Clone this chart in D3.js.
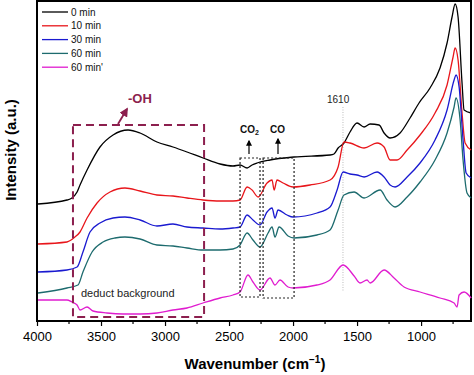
<!DOCTYPE html>
<html>
<head>
<meta charset="utf-8">
<script src="https://cdn.jsdelivr.net/npm/d3@7"></script>
<style>
  body { margin: 0; background: #fff; }
  svg { font-family: Arial, "Liberation Sans", sans-serif; }
</style>
</head>
<body>
<div id="container"></div>
<script>
/* CONSTANTS AND GLOBALS */
const width = 474,
  height = 375,
  margin = {top: 1, bottom: 54, left: 37, right: 3};

// spectra: wavenumber (cm-1) and intensity (a.u.)
const wn0 = [3992,3766,3727,3687,3664,3609,3508,3406,3289,3195,3063,2938,2828,2703,2570,2469,2414,2359,2320,2281,2180,1992,1711,1680,1648,1602,1555,1500,1445,1398,1328,1289,1242,1164,1086,1016,930,852,797,758,734,711,680,664,609];
const int0 = [1.17,1.21,1.23,1.29,1.36,1.51,1.74,1.86,1.91,1.88,1.79,1.74,1.69,1.63,1.57,1.55,1.56,1.53,1.56,1.58,1.61,1.64,1.66,1.67,1.73,1.78,1.89,1.98,1.94,1.97,1.96,1.88,1.83,1.88,2.03,2.18,2.33,2.53,2.78,3.04,3.17,3.04,2.38,2.11,2.08];

const wn10 = [3992,3766,3703,3664,3609,3531,3430,3313,3195,3063,2938,2828,2703,2570,2469,2414,2359,2320,2273,2203,2164,2148,2125,2078,2000,1867,1711,1648,1602,1555,1445,1344,1289,1242,1188,1109,1008,891,797,750,734,711,680,656,609];
const int10 = [0.77,0.79,0.84,0.89,1.03,1.18,1.29,1.33,1.30,1.26,1.25,1.23,1.21,1.20,1.20,1.21,1.34,1.31,1.24,1.38,1.41,1.31,1.41,1.38,1.34,1.36,1.41,1.54,1.79,1.78,1.73,1.78,1.74,1.61,1.61,1.71,1.86,2.08,2.36,2.64,2.73,2.61,2.08,1.78,1.71];

const wn30 = [3992,3766,3687,3641,3586,3508,3406,3313,3195,3063,2938,2828,2703,2570,2469,2414,2359,2313,2258,2203,2164,2141,2117,2047,2000,1813,1711,1656,1609,1555,1500,1445,1344,1289,1242,1203,1109,1008,891,797,742,727,703,672,648,609];
const int30 = [0.49,0.51,0.54,0.69,0.89,0.98,1.03,1.04,1.01,0.95,0.97,0.94,0.93,0.92,0.93,0.94,1.06,1.01,0.96,1.09,1.13,1.03,1.11,1.06,1.04,1.08,1.14,1.31,1.49,1.47,1.46,1.44,1.49,1.44,1.36,1.34,1.44,1.58,1.81,2.11,2.41,2.46,2.34,1.81,1.48,1.43];

const wn60 = [3992,3766,3680,3641,3570,3484,3391,3313,3195,3063,2938,2828,2703,2570,2469,2414,2359,2313,2258,2195,2164,2141,2109,2039,1992,1813,1711,1648,1602,1523,1445,1320,1266,1203,1109,1008,891,797,742,727,695,672,641,609];
const int60 = [0.28,0.33,0.36,0.49,0.69,0.79,0.83,0.84,0.82,0.76,0.75,0.73,0.71,0.71,0.72,0.76,0.88,0.81,0.74,0.88,0.94,0.84,0.94,0.85,0.83,0.86,0.91,1.11,1.26,1.29,1.23,1.31,1.21,1.14,1.24,1.39,1.61,1.88,2.14,2.23,2.01,1.61,1.28,1.23];

const wn60b = [3992,3766,3727,3687,3664,3609,3563,3453,3328,3195,3063,2938,2828,2703,2570,2469,2414,2352,2313,2258,2180,2141,2102,2039,2000,1813,1711,1609,1523,1477,1422,1398,1289,1211,1133,1008,852,742,719,703,664,609];
const int60b = [0.21,0.21,0.19,0.16,0.11,0.14,0.10,0.08,0.07,0.07,0.08,0.11,0.13,0.18,0.23,0.26,0.29,0.46,0.39,0.31,0.43,0.36,0.41,0.34,0.33,0.36,0.41,0.56,0.45,0.38,0.41,0.38,0.51,0.43,0.34,0.29,0.23,0.18,0.14,0.26,0.29,0.23];

const seriesNames = ["0 min", "10 min", "30 min", "60 min", "60 min'"];
const seriesColors = ["#000000", "#e8161b", "#1a1ad0", "#1d6b6e", "#e01ccf"];
const seriesWn = [wn0, wn10, wn30, wn60, wn60b];
const seriesInt = [int0, int10, int30, int60, int60b];

const xTicks = [4000, 3500, 3000, 2500, 2000, 1500, 1000];
const xMinorTicks = [3750, 3250, 2750, 2250, 1750, 1250, 750];

// annotation boxes: [wn left, wn right, intensity top, intensity bottom]
const ohBox = [3719, 2695, 1.96, 0.04];
const co2Box = [2414, 2258, 1.63, 0.24];
const coBox = [2234, 1992, 1.63, 0.23];
const peakLine = 1610;

/* SCALES */
const xScale = d3.scaleLinear()
  .domain([4000, 610])
  .range([margin.left, width - margin.right]);

const yScale = d3.scaleLinear()
  .domain([0, 3.2])
  .range([height - margin.bottom, margin.top]);

const svg = d3.select("#container")
  .append("svg")
  .attr("width", width)
  .attr("height", height);

/* AXES */
const xAxis = d3.axisBottom(xScale)
  .tickValues(xTicks)
  .tickSize(5)
  .tickPadding(6)
  .tickFormat(d3.format("d"));

const xAxisGroup = svg.append("g")
  .attr("transform", `translate(0, ${height - margin.bottom})`)
  .call(xAxis);
xAxisGroup.select(".domain").remove();
xAxisGroup.selectAll("line").attr("stroke", "#000").attr("stroke-width", 1.2);
xAxisGroup.selectAll("text")
  .attr("font-size", 13)
  .attr("fill", "#000")
  .attr("font-family", "Arial, 'Liberation Sans', sans-serif");

svg.append("g")
  .selectAll("line")
  .data(xMinorTicks)
  .join("line")
  .attr("x1", d => xScale(d))
  .attr("x2", d => xScale(d))
  .attr("y1", height - margin.bottom)
  .attr("y2", height - margin.bottom + 3)
  .attr("stroke", "#000")
  .attr("stroke-width", 1.2);

// frame
svg.append("rect")
  .attr("x", margin.left)
  .attr("y", margin.top)
  .attr("width", width - margin.left - margin.right)
  .attr("height", height - margin.top - margin.bottom)
  .attr("fill", "none")
  .attr("stroke", "#000")
  .attr("stroke-width", 2);

/* ANNOTATIONS (under the lines) */
svg.append("line")
  .attr("x1", xScale(peakLine)).attr("x2", xScale(peakLine))
  .attr("y1", yScale(2.14)).attr("y2", yScale(0.30))
  .attr("stroke", "#aaa")
  .attr("stroke-width", 0.8)
  .attr("stroke-dasharray", "1,1.5");

function box(b, color, dash, sw) {
  svg.append("rect")
    .attr("x", xScale(b[0]))
    .attr("y", yScale(b[2]))
    .attr("width", xScale(b[1]) - xScale(b[0]))
    .attr("height", yScale(b[3]) - yScale(b[2]))
    .attr("fill", "none")
    .attr("stroke", color)
    .attr("stroke-width", sw)
    .attr("stroke-dasharray", dash);
}

/* SPECTRA */
const line = d3.line()
  .x(d => xScale(d[0]))
  .y(d => yScale(d[1]))
  .curve(d3.curveMonotoneX);

seriesNames.forEach((name, i) => {
  const pts = seriesWn[i].map((w, j) => [w, seriesInt[i][j]]);
  svg.append("path")
    .datum(pts)
    .attr("fill", "none")
    .attr("stroke", seriesColors[i])
    .attr("stroke-width", 1.3)
    .attr("d", line);
});

box(ohBox, "#8c1f4e", "8,5", 2);
box(co2Box, "#222", "2,2", 1.2);
box(coBox, "#222", "2,2", 1.2);

// -OH label and arrow
const maroon = "#8c1f4e";
svg.append("defs").html(
  `<marker id="ah" viewBox="0 0 10 10" refX="8" refY="5" markerWidth="5" markerHeight="5" orient="auto">
     <path d="M0,0 L10,5 L0,10 z" fill="${maroon}"/></marker>
   <marker id="ahk" viewBox="0 0 10 10" refX="8" refY="5" markerWidth="5" markerHeight="5" orient="auto">
     <path d="M0,0 L10,5 L0,10 z" fill="#000"/></marker>`);

svg.append("line")
  .attr("x1", 118).attr("y1", 124)
  .attr("x2", 127).attr("y2", 109)
  .attr("stroke", maroon)
  .attr("stroke-width", 1.8)
  .attr("marker-end", "url(#ah)");

svg.append("text")
  .attr("x", 128).attr("y", 103)
  .attr("font-size", 13)
  .attr("font-weight", "bold")
  .attr("fill", maroon)
  .text("-OH");

svg.append("text")
  .attr("x", 81).attr("y", 297)
  .attr("font-size", 11)
  .attr("fill", "#222")
  .text("deduct background");

// CO2 / CO labels
const co2Text = svg.append("text")
  .attr("x", 240).attr("y", 133)
  .attr("font-size", 10)
  .attr("font-weight", "bold")
  .attr("fill", "#111");
co2Text.append("tspan").text("CO");
co2Text.append("tspan").attr("font-size", 7).attr("dy", 2).text("2");

svg.append("text")
  .attr("x", 270).attr("y", 133)
  .attr("font-size", 10)
  .attr("font-weight", "bold")
  .attr("fill", "#111")
  .text("CO");

[[249, 154, 141], [278, 154, 139]].forEach(a => {
  svg.append("line")
    .attr("x1", a[0]).attr("x2", a[0])
    .attr("y1", a[1]).attr("y2", a[2])
    .attr("stroke", "#000")
    .attr("stroke-width", 1.2)
    .attr("marker-end", "url(#ahk)");
});

svg.append("text")
  .attr("x", xScale(peakLine) - 16).attr("y", 103)
  .attr("font-size", 10)
  .attr("fill", "#222")
  .text("1610");

/* LEGEND */
const legend = svg.append("g").attr("transform", "translate(42, 12)");
seriesNames.forEach((name, i) => {
  const g = legend.append("g").attr("transform", `translate(0, ${i * 13.8})`);
  g.append("line")
    .attr("x1", 0).attr("x2", 26)
    .attr("stroke", seriesColors[i])
    .attr("stroke-width", 1.3);
  g.append("text")
    .attr("x", 29).attr("y", 3.5)
    .attr("font-size", 10)
    .attr("fill", "#111")
    .text(name);
});

/* AXIS TITLES */
const xTitle = svg.append("text")
  .attr("x", 255).attr("y", 369)
  .attr("text-anchor", "middle")
  .attr("font-size", 15)
  .attr("font-weight", "bold")
  .attr("fill", "#000");
xTitle.append("tspan").text("Wavenumber (cm");
xTitle.append("tspan").attr("font-size", 10).attr("dy", -6).text("\u22121");
xTitle.append("tspan").attr("dy", 6).text(")");

svg.append("text")
  .attr("transform", "translate(16, 150) rotate(-90)")
  .attr("text-anchor", "middle")
  .attr("font-size", 15)
  .attr("font-weight", "bold")
  .attr("fill", "#000")
  .text("Intensity (a.u.)");
</script>
</body>
</html>
